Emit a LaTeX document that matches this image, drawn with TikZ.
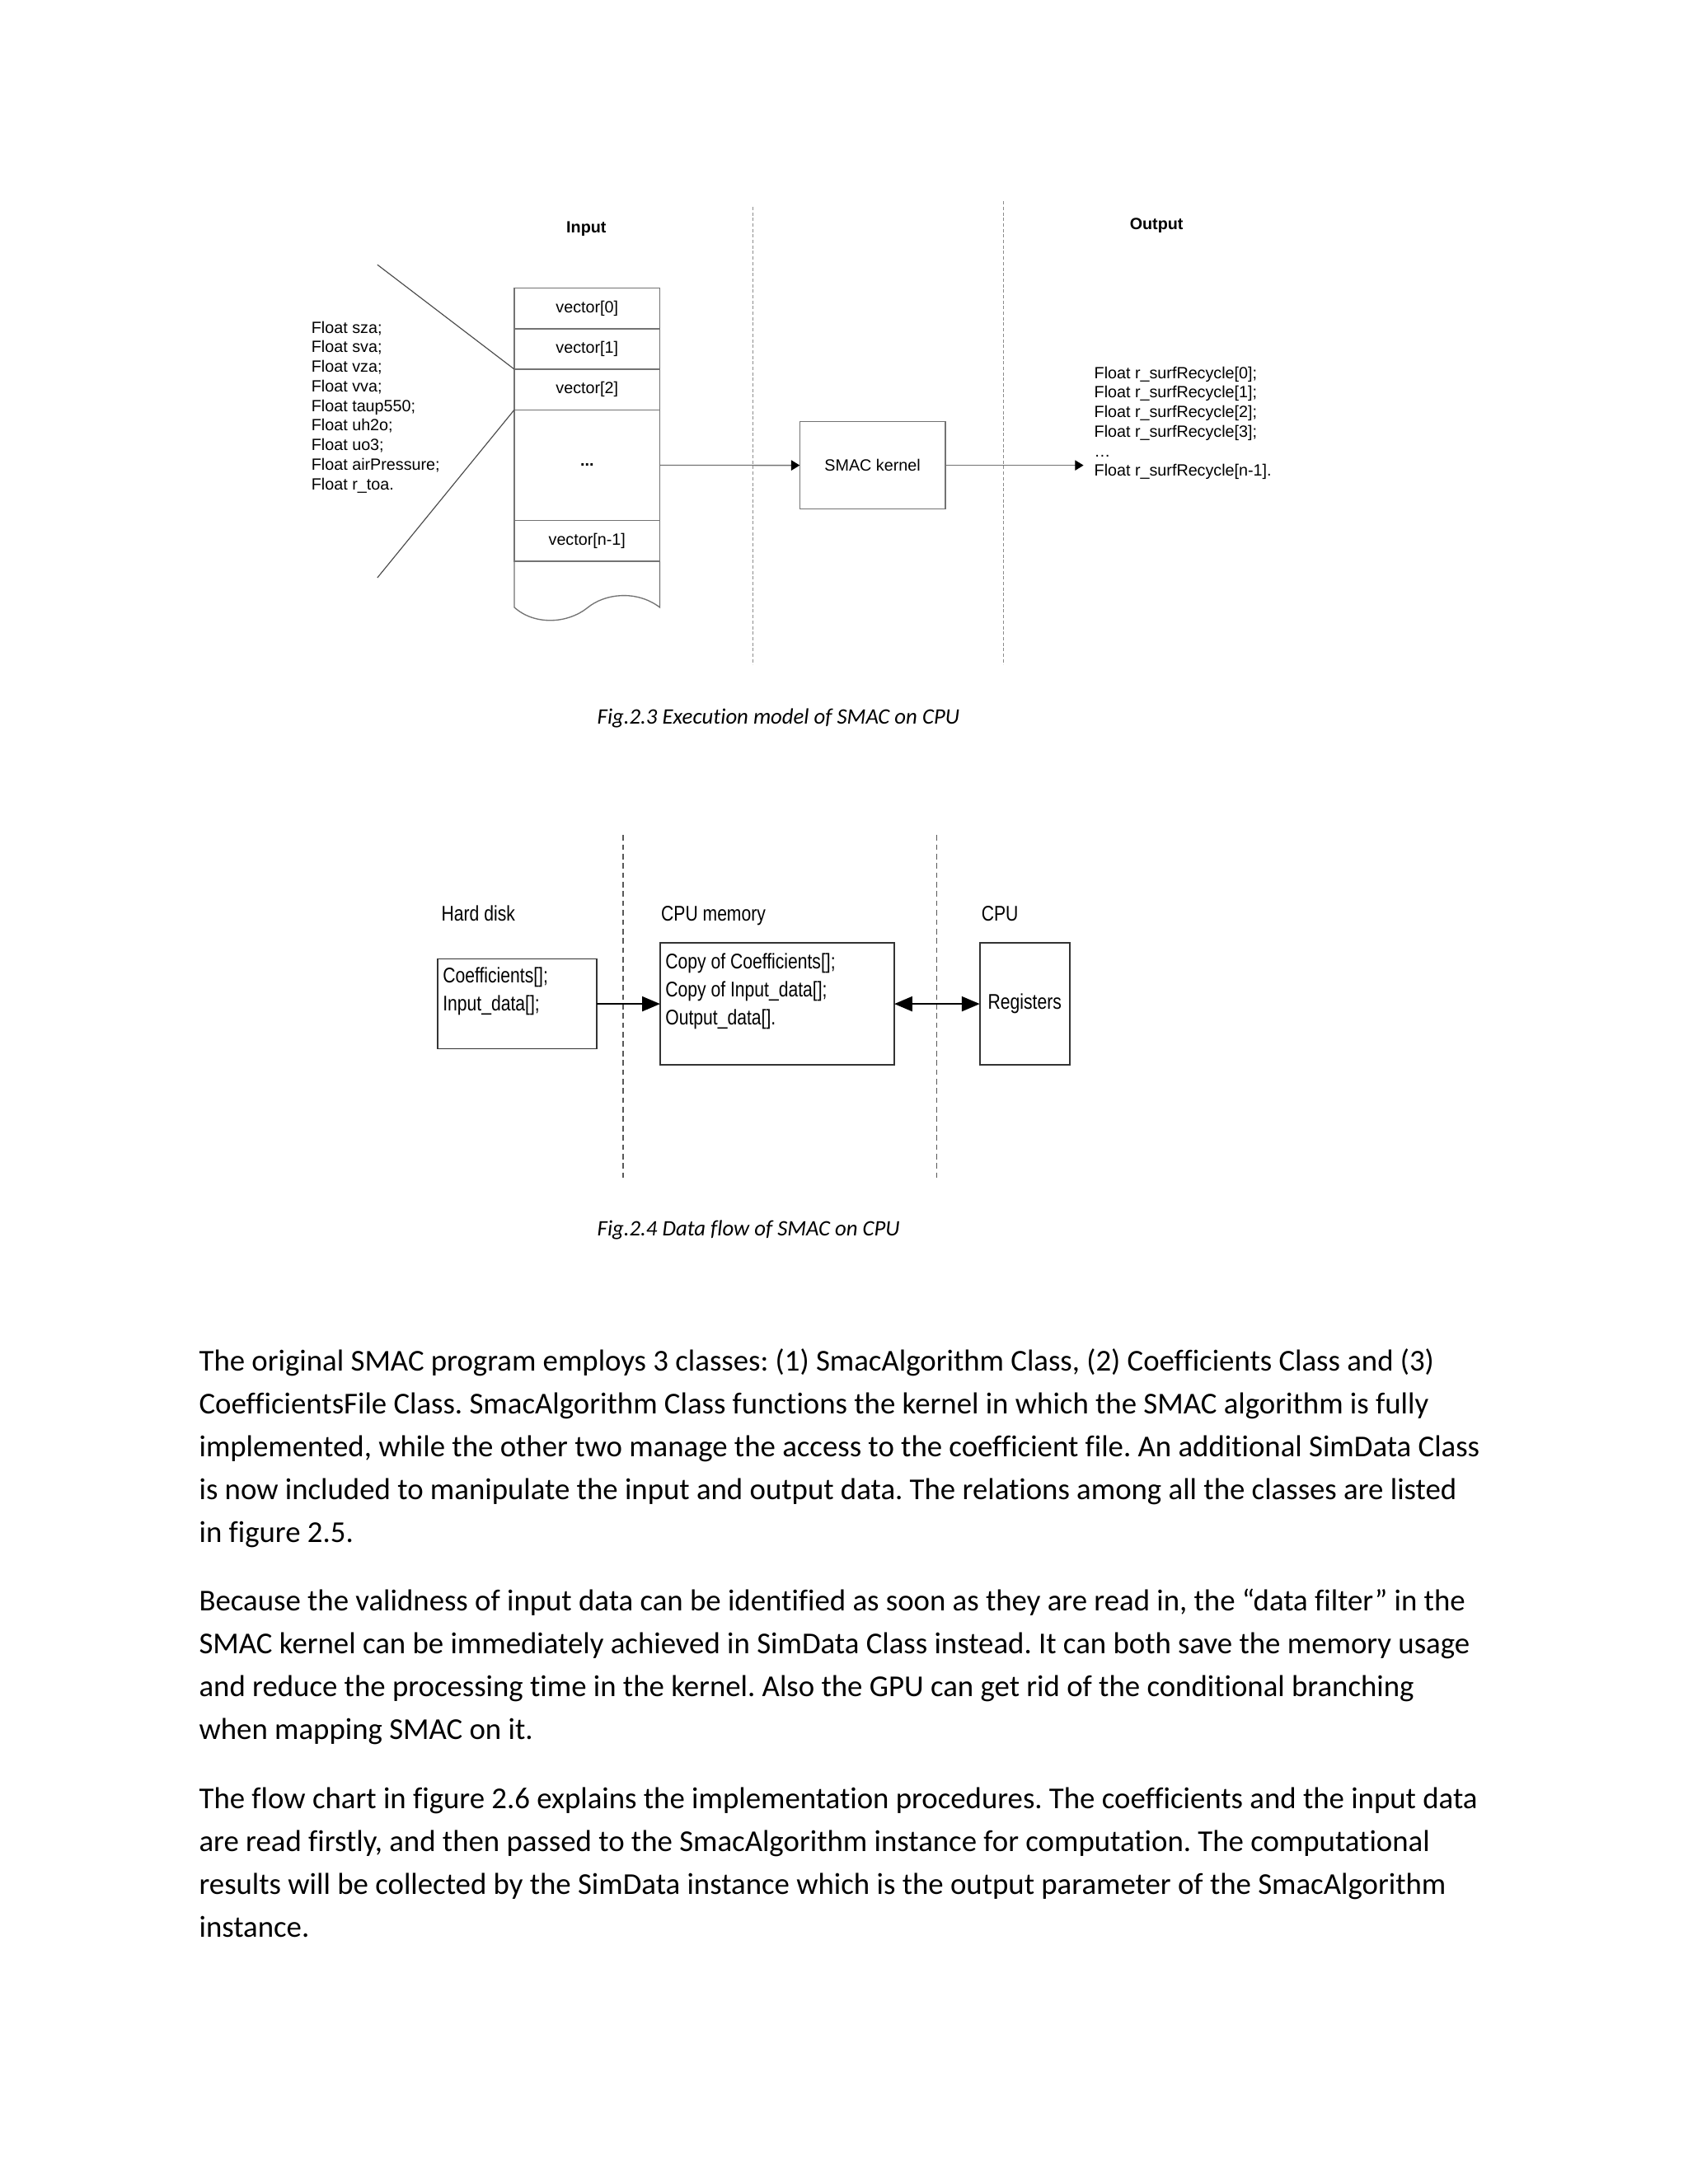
\documentclass[tikz,border=0pt]{standalone}
\usepackage{fontspec}
\setmainfont[Ligatures=NoCommon]{Carlito}
\newfontfamily\figfont{Liberation Sans}
\newfontfamily\narrowfont[FakeStretch=0.82]{Liberation Sans}
\usetikzlibrary{arrows.meta,positioning}
\frenchspacing

\tikzset{
  small/.style={font=\figfont\fontsize{5.9}{7.1}\selectfont, inner sep=0pt},
  headlbl/.style={small, font=\figfont\bfseries\fontsize{5.9}{7.1}\selectfont, anchor=base},
  cell/.style={small, draw=black!55, line width=0.4pt, outer sep=0pt, minimum width=52.75pt, minimum height=14.7pt},
  cellline/.style={draw=black!55, line width=0.4pt},
  slant/.style={draw=black!70, line width=0.35pt},
  sep1/.style={draw=black!45, line width=0.35pt, dash pattern=on 1.2pt off 0.8pt},
  arr1/.style={draw=black!55, line width=0.4pt, -{Triangle[length=3.1pt,width=3.7pt,color=black]}},
  narrow/.style={font=\narrowfont\fontsize{7.7}{10.1}\selectfont, inner sep=0pt},
  dbox/.style={narrow, draw=black!80, line width=0.5pt, outer sep=0pt},
  sep2/.style={draw=black!65, line width=0.45pt, dash pattern=on 2pt off 1.4pt},
  arr2/.style={draw=black, line width=0.5pt, -{Triangle[length=6.5pt,width=5.4pt]}},
  arr2b/.style={draw=black, line width=0.5pt, {Triangle[length=6.5pt,width=5.4pt]}-{Triangle[length=6.5pt,width=5.4pt]}},
  caption/.style={font=\itshape\fontsize{8}{9.6}\selectfont, inner sep=0pt, anchor=base west},
  bodyline/.style={font=\fontsize{11}{15.5}\selectfont, inner sep=0pt, anchor=base west}
}

\begin{document}
\begin{tikzpicture}[x=0.5pt, y=-0.5pt]
%\draw[help lines] (0,0) grid[step=50] (1224,1584);
\fill[white] (0,0) rectangle (1224,1584);
\useasboundingbox (0,0) rectangle (1224,1584);

% Fig.2.3
\node[headlbl] (input) at (425.2,168.8) {Input};
\node[headlbl] (output) at (838.7,166.4) {Output};

\draw[sep1] (546,150) -- (546,482);
\draw[sep1] (727.5,146) -- (727.5,482);

\node[cell] (v0) at (425.75,223.7) {vector[0]};
\node[cell, below=0pt of v0] (v1) {vector[1]};
\node[cell, below=0pt of v1] (v2) {vector[2]};
\node[cell, below=0pt of v2, minimum height=40.2pt] (vdots) {\bfseries...};
\node[cell, below=0pt of vdots] (vn) {vector[n-1]};
\draw[cellline] (vn.south west) -- (373,440.5)
  .. controls (388,454) and (412,452) .. (425.75,441)
  .. controls (439,430) and (462,428) .. (478.5,440.5) -- (vn.south east);

\foreach \t [count=\i from 0] in {Float sza;, Float sva;, Float vza;, Float vva;,
    Float taup550;, Float uh2o;, Float uo3;, Float airPressure;, Float r\_toa.}
  \node[small, anchor=base west] (par\i) at (225.5,{241.5+14.21*\i}) {\t};

\coordinate (topend) at (273.7,192);
\coordinate (botend) at (273.7,419);
\draw[slant] (topend) -- (v1.south west);
\draw[slant] (v2.south west) -- (botend);

\node[cell, minimum height=31.7pt] (smac) at (632.75,337.5) {SMAC kernel};
\draw[arr1] (vdots.east) -- (smac.west);

\coordinate (outtip) at (785.8,337.5);
\draw[arr1] (smac.east) -- (outtip);

\foreach \t [count=\i from 0] in {Float r\_surfRecycle[0];, Float r\_surfRecycle[1];,
    Float r\_surfRecycle[2];, Float r\_surfRecycle[3];, …, Float r\_surfRecycle[n-1].}
  \node[small, anchor=base west] (res\i) at (793.2,{274.4+14.2*\i}) {\t};

\node[caption] (cap1) at (432.8,525.2) {Fig.2.3 Execution model of SMAC on CPU};

% Fig.2.4
\draw[sep2] (451.8,605.6) -- (451.8,854.7);
\draw[sep2] (679.4,605.6) -- (679.4,854.7);

\node[narrow, anchor=base west] (disklbl) at (319.8,668) {Hard disk};
\node[narrow, anchor=base west] (memlbl) at (479.1,668) {CPU memory};
\node[narrow, anchor=base west] (cpulbl) at (711.4,668) {CPU};

\node[dbox, minimum width=57.65pt, minimum height=32.6pt] (disk) at (375.05,728.1) {};
\node[dbox, minimum width=84.95pt, minimum height=44.2pt] (mem) at (563.65,728.1) {};
\node[dbox, minimum width=32.65pt, minimum height=44.2pt] (regs) at (743.15,728.1) {Registers};

\node[narrow, anchor=base west] (disk1) at (320.8,712.9) {Coefficients[];};
\node[narrow, anchor=base west] (disk2) at (320.8,733.2) {Input\_data[];};
\node[narrow, anchor=base west] (mem1) at (482.2,702.9) {Copy of Coefficients[];};
\node[narrow, anchor=base west] (mem2) at (482.2,723.0) {Copy of Input\_data[];};
\node[narrow, anchor=base west] (mem3) at (482.2,743.1) {Output\_data[].};

\draw[arr2] (disk.east) -- (mem.west);
\draw[arr2b] (mem.east) -- (regs.west);

\node[caption] (cap2) at (432.8,896.3) {Fig.2.4 Data flow of SMAC on CPU};

% text
\foreach \y/\t [count=\i] in {
    994.1/{The original SMAC program employs 3 classes: (1) SmacAlgorithm Class, (2) Coefficients Class and (3)},
    1025.2/{CoefficientsFile Class. SmacAlgorithm Class functions the kernel in which the SMAC algorithm is fully},
    1056.3/{implemented, while the other two manage the access to the coefficient file. An additional SimData Class},
    1087.4/{is now included to manipulate the input and output data. The relations among all the classes are listed},
    1118.5/{in figure 2.5.},
    1168.4/{Because the validness of input data can be identified as soon as they are read in, the “data filter” in the},
    1199.5/{SMAC kernel can be immediately achieved in SimData Class instead. It can both save the memory usage},
    1230.6/{and reduce the processing time in the kernel. Also the GPU can get rid of the conditional branching},
    1261.7/{when mapping SMAC on it.},
    1311.9/{The flow chart in figure 2.6 explains the implementation procedures. The coefficients and the input data},
    1343.0/{are read firstly, and then passed to the SmacAlgorithm instance for computation. The computational},
    1374.1/{results will be collected by the SimData instance which is the output parameter of the SmacAlgorithm},
    1405.2/{instance.}}
  \node[bodyline] (line\i) at (144,\y) {\t};

\end{tikzpicture}
\end{document}
